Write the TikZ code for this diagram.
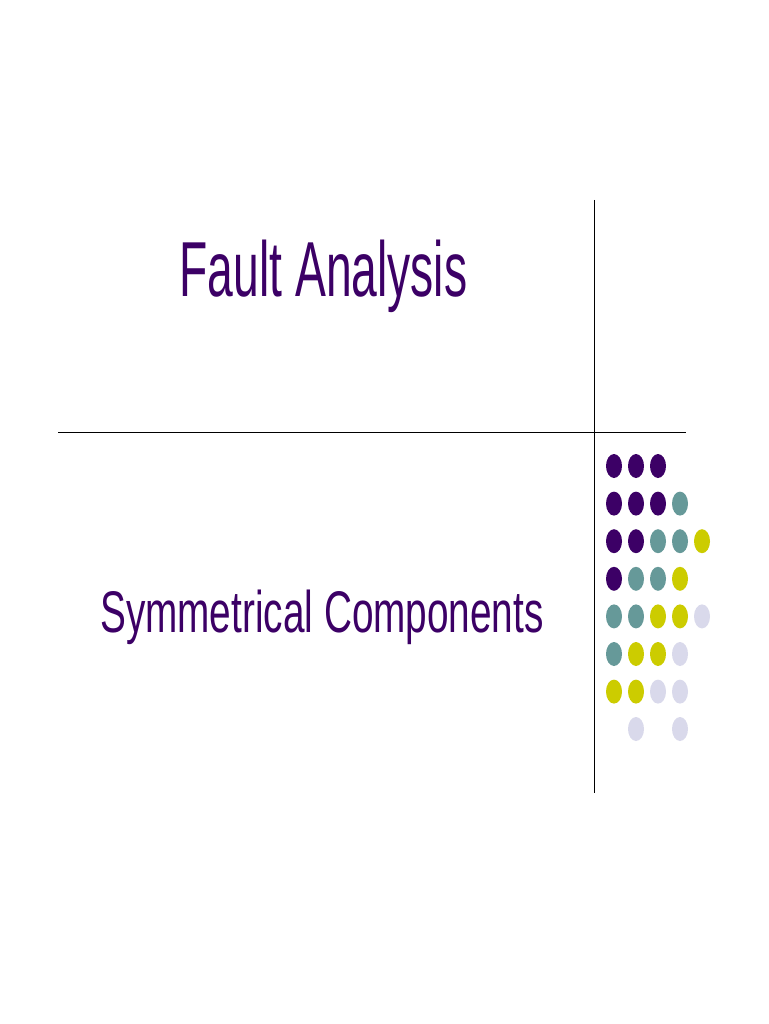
\documentclass[tikz,border=0pt]{standalone}
\usepackage{fontspec}
\setmainfont{Liberation Sans}
\definecolor{cP}{HTML}{3C0066}
\definecolor{cT}{HTML}{669999}
\definecolor{cY}{HTML}{CCCC00}
\definecolor{cL}{HTML}{D9D9EB}
\usetikzlibrary{shapes.geometric}
\tikzset{dot/.style={ellipse,minimum width=16pt,minimum height=24pt,inner sep=0pt},
title/.style={text=cP,anchor=base,inner sep=0pt}}
\begin{document}
\begin{tikzpicture}[x=1pt,y=-1pt]
\useasboundingbox[fill=white] (0,0) rectangle (768,1024);
\draw[black,line width=0.8pt] (594,200) -- (594,793);
\draw[black,line width=0.8pt] (58,432) -- (686,432);
\node[title,font=\fontsize{78}{80}\selectfont,xscale=0.593] (t1) at (323.5,296) {Fault Analysis};
\node[title,font=\fontsize{58.7}{60}\selectfont,xscale=0.66] (t2) at (322,632) {Symmetrical Components};
\foreach \r/\list in {0/{P,P,P},1/{P,P,P,T},2/{P,P,T,T,Y},3/{P,T,T,Y},4/{T,T,Y,Y,L},5/{T,Y,Y,L},6/{Y,Y,L,L}}{
  \foreach \c [count=\i from 0] in \list {
    \node[dot,fill=c\c] (d\r\i) at (614+22*\i,466+37.6*\r) {};
  }
}
\node[dot,fill=cL] (d71) at (636,729) {};
\node[dot,fill=cL] (d73) at (680,729) {};
\end{tikzpicture}
\end{document}
